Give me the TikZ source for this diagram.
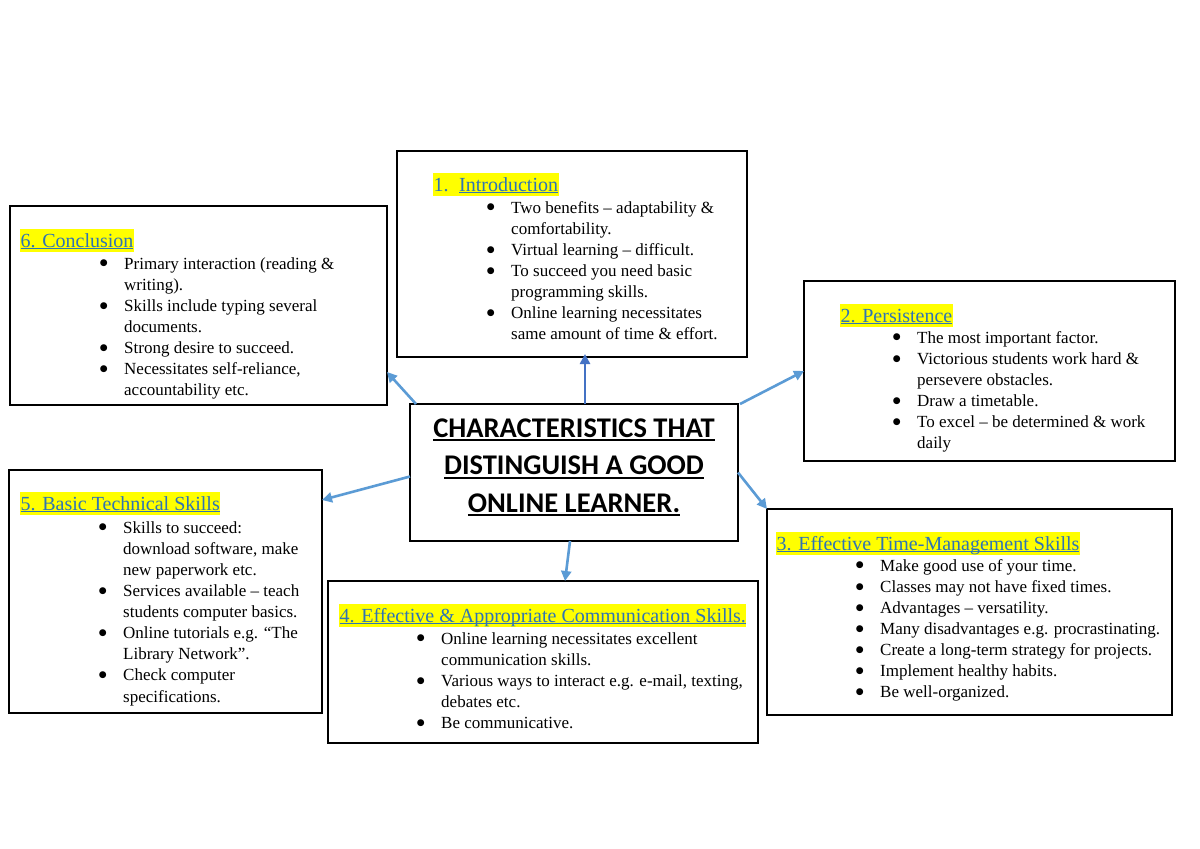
\documentclass[tikz,border=0pt]{standalone}
\usepackage{fontspec}
\setmainfont{Liberation Serif}
\newfontfamily\calib{Carlito}
\newfontfamily\dejavu{DejaVu Sans}
\usetikzlibrary{arrows.meta,calc}
\definecolor{headblue}{RGB}{46,116,181}
\definecolor{arrblue}{RGB}{91,155,213}
\definecolor{arrdark}{RGB}{68,114,196}
\definecolor{hlyellow}{RGB}{255,255,0}
\newcommand\hul[1]{\setbox0\hbox{#1}\rlap{\rule[-2.3pt]{\wd0}{1.1pt}}\box0}
\newcommand\cul[1]{\setbox0\hbox{#1}\rlap{\rule[-3.8pt]{\wd0}{1.9pt}}\box0}
\newcommand\bl{\llap{\raisebox{3.3pt}{\dejavu\fontsize{9}{9}\selectfont ●}\hspace{16.5pt}}}
\newcommand\fst{\rule{0pt}{14pt}}
\begin{document}
\begin{tikzpicture}[x=1pt,y=-1pt,
  box/.style={draw=black, line width=2pt, inner sep=0pt, outer sep=0pt},
  head/.style={anchor=base west, fill=hlyellow, text=headblue, font=\fontsize{20}{24}\selectfont, inner xsep=0.5pt, inner ysep=0pt, text height=18pt, text depth=5pt},
  list/.style={anchor=north west, align=left, inner sep=0pt, font=\fontsize{17}{21.1}\selectfont},
  ctext/.style={anchor=north, align=center, inner sep=0pt, font=\calib\bfseries\fontsize{28.5}{37.5}\selectfont},
  conn/.style={draw=arrblue, line width=2.6pt, -{Triangle[length=10pt,width=10pt]}}]
\fill[white] (0,0) rectangle (1200,849);
\useasboundingbox (0,0) rectangle (1200,849);

% boxes
\node[box, minimum width=350pt, minimum height=206pt] (b1) at (572,254) {};
\node[box, minimum width=377pt, minimum height=199pt] (b6) at (198.5,305.5) {};
\node[box, minimum width=371pt, minimum height=180pt] (b2) at (989.5,371) {};
\node[box, minimum width=328pt, minimum height=137pt] (c) at (574,472.5) {};
\node[box, minimum width=313pt, minimum height=243pt] (b5) at (165.5,591.5) {};
\node[box, minimum width=430pt, minimum height=162pt] (b4) at (543,662) {};
\node[box, minimum width=405pt, minimum height=206pt] (b3) at (969.5,612) {};

% centre text
\node[ctext] (ct) at (574,416) {\rule{0pt}{21pt}\cul{CHARACTERISTICS THAT}\\ \cul{DISTINGUISH A GOOD}\\ \cul{ONLINE LEARNER.}};

% 1
\node[head] (h1) at (433,191) {1.\hspace{10.5pt}\hul{Introduction}};
\node[list] (l1) at (511,199) {\bl\fst Two benefits – adaptability \&\\ comfortability.\\ \bl Virtual learning – difficult.\\ \bl To succeed you need basic\\ programming skills.\\ \bl Online learning necessitates\\ same amount of time \& effort.};

% 6
\node[head] (h6) at (20,247) {\hul{6. Conclusion}};
\node[list] (l6) at (124,255) {\bl\fst Primary interaction (reading \&\\ writing).\\ \bl Skills include typing several\\ documents.\\ \bl Strong desire to succeed.\\ \bl Necessitates self-reliance,\\ accountability etc.};

% 2
\node[head] (h2) at (840,322) {\hul{2. Persistence}};
\node[list] (l2) at (917,329) {\bl\fst The most important factor.\\ \bl Victorious students work hard \&\\ persevere obstacles.\\ \bl Draw a timetable.\\ \bl To excel – be determined \& work\\ daily};

% 5
\node[head] (h5) at (20,510) {\hul{5. Basic Technical Skills}};
\node[list] (l5) at (123,519) {\bl\fst Skills to succeed:\\ download software, make\\ new paperwork etc.\\ \bl Services available – teach\\ students computer basics.\\ \bl Online tutorials e.g. “The\\ Library Network”.\\ \bl Check computer\\ specifications.};

% 4
\node[head] (h4) at (339,622) {\hul{4. Effective \& Appropriate Communication Skills.}};
\node[list] (l4) at (441,630) {\bl\fst Online learning necessitates excellent\\ communication skills.\\ \bl Various ways to interact e.g. e-mail, texting,\\ debates etc.\\ \bl Be communicative.};

% 3
\node[head] (h3) at (776,550) {\hul{3. Effective Time-Management Skills}};
\node[list] (l3) at (880,557) {\bl\fst Make good use of your time.\\ \bl Classes may not have fixed times.\\ \bl Advantages – versatility.\\ \bl Many disadvantages e.g. procrastinating.\\ \bl Create a long-term strategy for projects.\\ \bl Implement healthy habits.\\ \bl Be well-organized.};

% connectors
\draw[conn, draw=arrdark] ([xshift=11pt]c.north) -- ([xshift=13pt,yshift=3pt]b1.south);
\draw[conn] ([xshift=6pt]c.north west) -- ([yshift=33pt]b6.south east);
\draw[conn] ([xshift=2pt]c.north east) -- (b2.west);
\draw[conn] (c.east) -- (b3.north west);
\draw[conn] ([xshift=-4pt]c.south) -- ([xshift=22pt]b4.north);
\draw[conn] ([yshift=-4pt]c.west) -- ([yshift=-30pt]b5.north east);
\end{tikzpicture}
\end{document}
